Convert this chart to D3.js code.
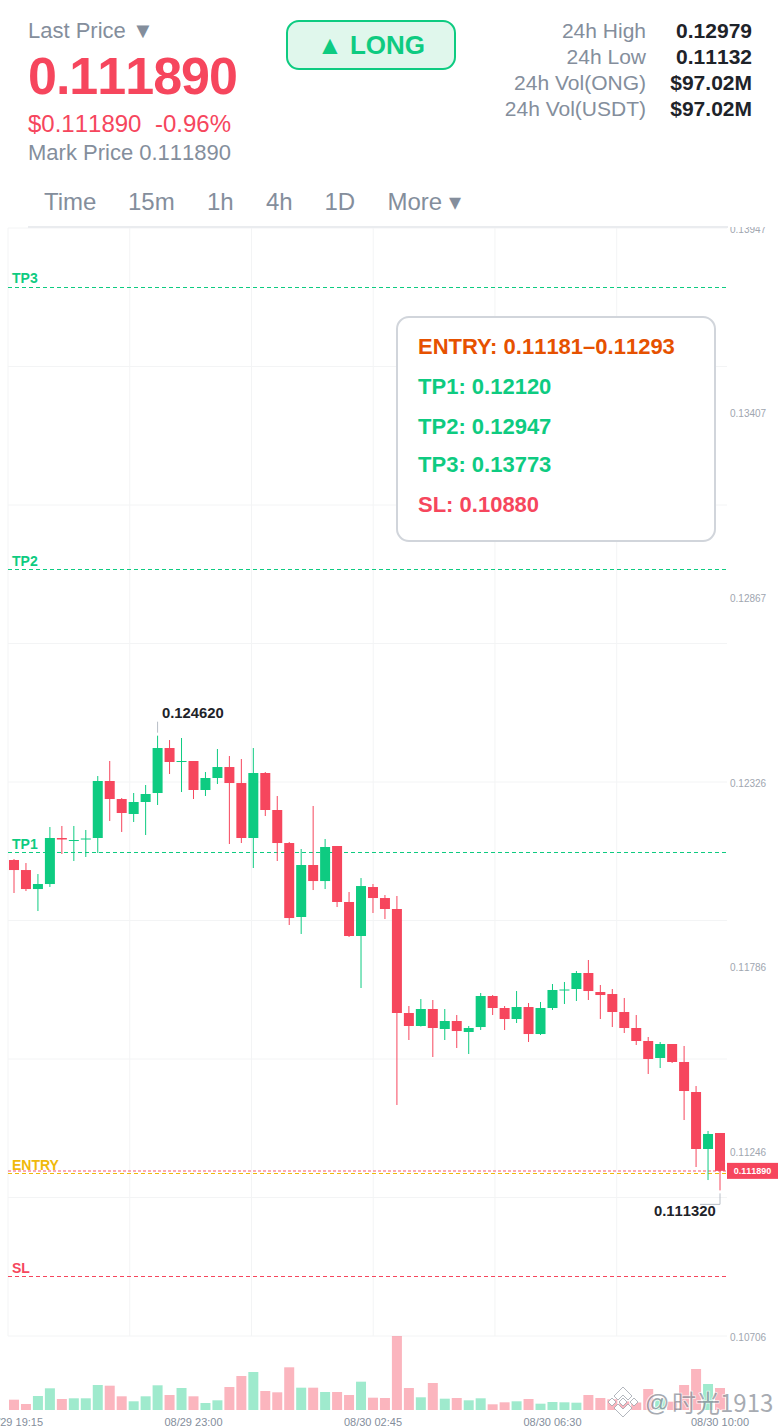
<!DOCTYPE html>
<html>
<head>
<meta charset="utf-8">
<title>ONG/USDT</title>
<script src="https://cdn.jsdelivr.net/npm/d3@7"></script>
<style>
  html, body { margin: 0; padding: 0; background: #fff; }
  svg { display: block; }
  text { font-family: "Liberation Sans", Arial, sans-serif; }
  .num { font-kerning: none; }
</style>
</head>
<body>
<svg id="svg_chart" width="780" height="1428"></svg>
<script>
// Candle values (15m candles, left to right)
const opens = [
  .120983, .120690, .120134, .120281, .121627, .121539, .121583, .121627, .123294, .122767,
  .122329, .122680, .122943, .124259, .123850, .123879, .123031, .123382, .123703, .123235,
  .121627, .123528, .122446, .121480, .119316, .120837, .120368, .121393, .119755, .118760,
  .120193, .119871, .119550, .116508, .116128, .116625, .116040, .116274, .115952, .116098,
  .117005, .116654, .116332, .116683, .115893, .116654, .117170, .117210, .117678, .117122,
  .117063, .116537, .116069, .115689, .115192, .115601, .115075, .114197, .112530, .112998
];
const highs = [
  .121012, .120895, .120573, .121948, .121978, .121978, .121861, .123440, .123879, .122796,
  .122943, .123177, .124620, .124493, .124552, .123879, .123557, .124230, .124025, .123937,
  .124259, .123557, .122855, .121510, .121305, .122563, .121598, .121393, .120047, .120456,
  .120281, .119959, .119930, .116712, .116917, .116888, .116625, .116449, .116128, .117093,
  .117034, .116712, .117151, .116800, .116830, .117356, .117415, .117736, .118058, .117327,
  .117210, .116947, .116449, .115806, .115660, .115601, .115543, .114372, .113057, .112998
];
const lows = [
  .120018, .120076, .119491, .120193, .121159, .120954, .121071, .121188, .122124, .121803,
  .122095, .121714, .122592, .123499, .122972, .122767, .122855, .123206, .121451, .121480,
  .120749, .122270, .120954, .119082, .118819, .120105, .120134, .119608, .118731, .117239,
  .119433, .119257, .113817, .115718, .116113, .115221, .115718, .115484, .115309, .116011,
  .116449, .116011, .116215, .115660, .115864, .116596, .116771, .116859, .116888, .116332,
  .116098, .115923, .115572, .114724, .114899, .115046, .113378, .112003, .111622, .111320
];
const closes = [
  .120690, .120134, .120281, .121627, .121583, .121568, .121612, .123294, .122767, .122358,
  .122680, .122914, .124259, .123850, .123879, .123031, .123382, .123703, .123235, .121627,
  .123528, .122446, .121480, .119286, .120837, .120368, .121364, .119755, .118760, .120222,
  .119871, .119550, .116508, .116128, .116625, .116069, .116274, .115981, .116069, .117005,
  .116654, .116332, .116683, .115893, .116654, .117181, .117195, .117678, .117151, .117034,
  .116537, .116069, .115689, .115162, .115601, .115075, .114226, .112530, .112969, .111890
];
const volumes = [
  10.3, 6, 14, 21.7, 11, 11.7, 11.7, 25, 24.3, 13.7,
  8.7, 13.7, 24.7, 15, 22, 13.7, 7, 9.7, 23, 34,
  38, 19, 17.7, 42.7, 22.3, 22.3, 18, 18, 15, 28.3,
  12.3, 12, 74, 22, 12.7, 27, 11.3, 12, 9.7, 11.7,
  5.7, 7.7, 8.7, 11, 6.3, 8, 7.7, 7.3, 15, 12,
  10.7, 8.5, 7.5, 21, 11, 8.3, 25, 41, 26, 22
];

// Axis ticks
const priceTicks = [0.13947, 0.13407, 0.12867, 0.12326, 0.11786, 0.11246, 0.10706];
const timeTickIndex = [0, 15, 30, 45, 59];
const timeTickLabels = ['08/29 19:15', '08/29 23:00', '08/30 02:45', '08/30 06:30', '08/30 10:00'];

// Signal levels
const levelNames = ['TP3', 'TP2', 'TP1', 'ENTRY', 'SL'];
const levelPrices = [0.13773, 0.12947, 0.12120, 0.11181, 0.10880];
const levelColors = ['#0ECB81', '#0ECB81', '#0ECB81', '#F0B90B', '#F6465D'];

// Text blocks
const statNames = ['24h High', '24h Low', '24h Vol(ONG)', '24h Vol(USDT)'];
const statValues = ['0.12979', '0.11132', '$97.02M', '$97.02M'];
const tabNames = ['Time', '15m', '1h', '4h', '1D', 'More ▾'];
const tabStarts = [44, 128, 207, 266, 324.5, 387.5];
const boxLines = ['ENTRY: 0.11181–0.11293', 'TP1: 0.12120', 'TP2: 0.12947', 'TP3: 0.13773', 'SL: 0.10880'];
const boxColors = ['#E65100', '#0ECB81', '#0ECB81', '#0ECB81', '#F6465D'];
const boxBaselines = [354, 394, 434, 472, 512];

const lastPrice = 0.11189;
const highPrice = 0.12462;
const lowPrice = 0.11132;

const red = '#F6465D', green = '#0ECB81', gray = '#848E9C', dark = '#1E2329';

const svg = d3.select('#svg_chart');

/* Scales */

const xScale = d3.scaleLinear().domain([0, opens.length - 1]).range([14, 720]);
const yScale = d3.scaleLinear().domain([0.10706, 0.13947]).range([1336, 228]);
const volScale = d3.scaleLinear().domain([0, d3.max(volumes)]).range([1410, 1336]);
const xGrid = d3.scaleLinear().domain([0, 5]).range([8, 616.7]);
const yGrid = d3.scaleLinear().domain([0, 8]).range([228, 1336]);

const candleWidth = 10;
const isUp = i => closes[i] >= opens[i];

/* Header */

// Number runs are set without kerning, words keep it (that is how the picture reads)
function addText(str, x, y, size, fill, weight, anchor) {
    let t = svg.append('text')
        .attr('x', x).attr('y', y)
        .attr('font-size', size)
        .attr('fill', fill)
        .attr('font-weight', weight || 'normal')
        .attr('text-anchor', anchor || 'start');
    str.split(/([0-9.$%–-]+)/).filter(s => s.length).forEach(s => {
        t.append('tspan')
            .attr('class', /^[0-9.$%–-]+$/.test(s) ? 'num' : null)
            .text(s);
    });
    return t;
}

addText('Last Price ▼', 28, 38, 22, gray);
addText('0.111890', 28, 94, 52, red, 'bold').attr('letter-spacing', -1);
addText('$0.111890', 28, 132, 24, red);
addText('-0.96%', 155, 132, 24, red);
addText('Mark Price 0.111890', 28, 160, 22, gray);

svg.append('rect')
    .attr('x', 287).attr('y', 21)
    .attr('width', 168).attr('height', 48)
    .attr('rx', 12)
    .attr('fill', '#E0F7EC')
    .attr('stroke', green)
    .attr('stroke-width', 2);
addText('▲ LONG', 371, 54, 26, green, 'bold', 'middle');

statNames.forEach((d, i) => {
    addText(d, 646, 38 + i * 26, 21, gray, 'normal', 'end');
    addText(statValues[i], 752, 38 + i * 26, 21, dark, 'bold', 'end');
});

tabNames.forEach((d, i) => addText(d, tabStarts[i], 210, 24, gray));

/* Grid */

svg.append('g').selectAll('line')
    .data(d3.range(9))
    .join('line')
    .attr('x1', 8).attr('x2', 727)
    .attr('y1', d => yGrid(d)).attr('y2', d => yGrid(d))
    .attr('stroke', '#F3F4F5');

svg.append('g').selectAll('line')
    .data(d3.range(6))
    .join('line')
    .attr('x1', d => xGrid(d)).attr('x2', d => xGrid(d))
    .attr('y1', 228).attr('y2', 1336)
    .attr('stroke', '#F3F4F5');

/* Axes */

// clip rect is in the axis group's own coordinates
svg.append('clipPath').attr('id', 'priceClip')
    .append('rect').attr('x', 0).attr('y', 227).attr('width', 53).attr('height', 1200);

const priceAxis = svg.append('g')
    .attr('transform', 'translate(727,0)')
    .attr('clip-path', 'url(#priceClip)')
    .call(d3.axisRight(yScale).tickValues(priceTicks).tickFormat(d3.format('.5f')).tickSize(0).tickPadding(3));
priceAxis.select('.domain').remove();
priceAxis.selectAll('text')
    .attr('font-size', 10)
    .attr('fill', '#A0A6B0')
    .attr('dy', '0.4em')
    .attr('class', 'num')
    .style('font-family', '"Liberation Sans", Arial, sans-serif');

const timeAxis = svg.append('g')
    .attr('transform', 'translate(0,1410)')
    .call(d3.axisBottom(xScale).tickValues(timeTickIndex).offset(0)
        .tickFormat((d, i) => timeTickLabels[i]).tickSize(0).tickPadding(8));
timeAxis.select('.domain').remove();
timeAxis.selectAll('text')
    .attr('font-size', 11)
    .attr('fill', gray)
    .attr('class', 'num')
    .style('font-family', '"Liberation Sans", Arial, sans-serif');

// Rule under the tabs sits on top of the clipped first label
svg.append('rect')
    .attr('x', 28).attr('y', 226)
    .attr('width', 700).attr('height', 2)
    .attr('fill', '#EAECEF');

/* Volume */

svg.append('g').selectAll('rect')
    .data(volumes)
    .join('rect')
    .attr('x', (d, i) => xScale(i) - candleWidth / 2)
    .attr('y', d => volScale(d))
    .attr('width', candleWidth)
    .attr('height', d => volScale(0) - volScale(d))
    .attr('fill', (d, i) => isUp(i) ? green : red)
    .attr('opacity', 0.4);

/* Level lines */

// Snap to the pixel row so the 1px dashes keep their colour
const levelY = d => Math.floor(yScale(d)) + 0.5;

svg.append('g').selectAll('line')
    .data(levelPrices)
    .join('line')
    .attr('x1', 8).attr('x2', 727)
    .attr('y1', levelY).attr('y2', levelY)
    .attr('stroke', (d, i) => levelColors[i])
    .attr('stroke-dasharray', '4,3');

svg.append('g').selectAll('text')
    .data(levelPrices)
    .join('text')
    .attr('x', 12)
    .attr('y', d => yScale(d) - 4)
    .attr('font-size', 14)
    .attr('font-weight', 'bold')
    .attr('fill', (d, i) => levelColors[i])
    .text((d, i) => levelNames[i]);

// Last price line and tag
svg.append('line')
    .attr('x1', 8).attr('x2', 727)
    .attr('y1', yScale(lastPrice)).attr('y2', yScale(lastPrice))
    .attr('stroke', red)
    .attr('stroke-opacity', 0.6)
    .attr('stroke-width', 1.5)
    .attr('stroke-dasharray', '3,2');

svg.append('rect')
    .attr('x', 727).attr('y', yScale(lastPrice) - 8)
    .attr('width', 51).attr('height', 16)
    .attr('fill', red);
addText('0.111890', 752.5, yScale(lastPrice) + 3.5, 9, '#fff', 'bold', 'middle');

/* Candles */

const candles = svg.append('g').selectAll('g')
    .data(opens)
    .join('g');

candles.append('line')
    .attr('x1', (d, i) => xScale(i)).attr('x2', (d, i) => xScale(i))
    .attr('y1', (d, i) => yScale(highs[i]))
    .attr('y2', (d, i) => yScale(lows[i]))
    .attr('stroke', (d, i) => isUp(i) ? green : red);

candles.append('rect')
    .attr('x', (d, i) => xScale(i) - candleWidth / 2)
    .attr('y', (d, i) => yScale(Math.max(opens[i], closes[i])))
    .attr('width', candleWidth)
    .attr('height', (d, i) => Math.max(1, Math.abs(yScale(opens[i]) - yScale(closes[i]))))
    .attr('fill', (d, i) => isUp(i) ? green : red);

/* High and low notes */

const highIndex = highs.indexOf(highPrice);
const lowIndex = lows.indexOf(lowPrice);

svg.append('line')
    .attr('x1', xScale(highIndex)).attr('x2', xScale(highIndex))
    .attr('y1', yScale(highPrice) - 14).attr('y2', yScale(highPrice) - 3)
    .attr('stroke', '#B7BDC6');
addText('0.124620', 162, 718, 14.8, dark, 'bold');

svg.append('path')
    .attr('d', `M${xScale(lowIndex)},${yScale(lowPrice) + 3}V${yScale(lowPrice) + 14}H${xScale(lowIndex) - 20}`)
    .attr('fill', 'none')
    .attr('stroke', '#B7BDC6');
addText('0.111320', 654, 1216, 14.8, dark, 'bold');

/* Signal box */

svg.append('rect')
    .attr('x', 397).attr('y', 317)
    .attr('width', 318).attr('height', 224)
    .attr('rx', 12)
    .attr('fill', '#fff')
    .attr('stroke', '#D1D5DB')
    .attr('stroke-width', 2);

boxLines.forEach((d, i) => addText(d, 418, boxBaselines[i], 22, boxColors[i], 'bold'));

/* Watermark */

const logo = svg.append('g').attr('transform', 'translate(623,1402)')
    .attr('fill', '#fff')
    .attr('stroke', '#9A9FA8')
    .attr('stroke-opacity', 0.75);
logo.append('path').attr('d', 'M0,-15L9,-6L5,-2L0,-7L-5,-2L-9,-6Z');
logo.append('path').attr('d', 'M0,15L9,6L5,2L0,7L-5,2L-9,6Z');
logo.append('path').attr('d', 'M0,-4L4,0L0,4L-4,0Z');
logo.append('path').attr('d', 'M-11,-4L-7,0L-11,4L-15,0Z');
logo.append('path').attr('d', 'M11,-4L15,0L11,4L7,0Z');

svg.append('text')
    .attr('x', 645).attr('y', 1411)
    .attr('font-size', 24)
    .attr('fill', '#8A8F99')
    .attr('opacity', 0.75)
    .attr('stroke', '#fff').attr('stroke-width', 2).attr('paint-order', 'stroke')
    .text('@');
svg.append('text')
    .attr('x', 672).attr('y', 1412)
    .attr('font-size', 24)
    .attr('fill', '#8A8F99')
    .style('font-family', '"Noto Sans CJK SC", sans-serif')
    .attr('opacity', 0.75)
    .attr('stroke', '#fff').attr('stroke-width', 1.5).attr('paint-order', 'stroke')
    .text('时光1913');
</script>
</body>
</html>
